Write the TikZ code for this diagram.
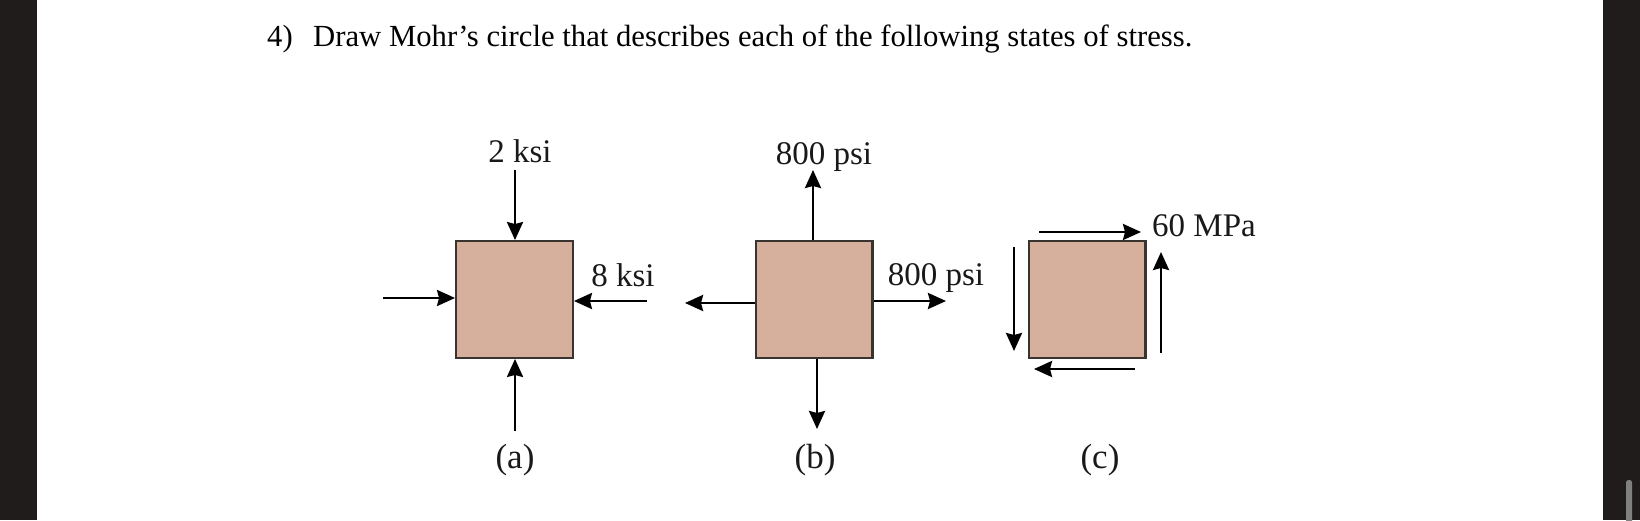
\documentclass[tikz,border=0pt]{standalone}
\usepackage{fontspec}
\setmainfont{Liberation Serif}
\usetikzlibrary{arrows.meta, positioning}
\definecolor{barcol}{HTML}{1F1C1B}
\definecolor{boxcol}{HTML}{D6B09D}
\definecolor{edgecol}{HTML}{3A3431}
\tikzstyle{element} = [rectangle,draw=edgecol,fill=boxcol,line width=2.4pt,minimum size=116.5pt,inner sep=0pt]
\tikzstyle{load} = [-{Stealth[length=18pt,width=16pt,inset=2pt]},line width=2.7pt,black]
\tikzstyle{lbl} = [font=\fontsize{33}{38}\selectfont,text=black!90,inner sep=0pt,anchor=base]
\tikzstyle{headline} = [font=\fontsize{30.7}{36}\selectfont,text=black,inner sep=0pt,anchor=base west]
\tikzstyle{caption} = [font=\fontsize{35}{40}\selectfont,text=black!90,inner sep=0pt,anchor=base]

\begin{document}
\begin{tikzpicture}[x=1pt,y=1pt]
\useasboundingbox (0,0) rectangle (1640,520);
\fill[white] (0,0) rectangle (1640,520);
\fill[barcol] (0,0) rectangle (37,520);
\fill[barcol] (1603,0) rectangle (1640,520);
\fill[black!50,rounded corners=2.5pt] (1626,-6) rectangle (1632,40);

\node [headline](num) at (267,473){4)};
\node [headline](title) at (313,473){Draw Mohr’s circle that describes each of the following states of stress.};

\node [element](boxa) at (514.5,220.5){};
\node [element,right=181pt of boxa](boxb){};
\node [element,right=154pt of boxb](boxc){};

% free ends of the arrows
\coordinate (a1) at (515,350);
\coordinate (a2) at (383,222);
\coordinate (a3) at (647,219);
\coordinate (a4) at (515,89);
\coordinate (b1) at (813,350);
\coordinate (b2) at (685,217);
\coordinate (b3) at (946,219);
\coordinate (b4) at (817,91);
\coordinate (c1) at (1039,288);
\coordinate (c2) at (1141,288);
\coordinate (c3) at (1161,167);
\coordinate (c4) at (1161,268);
\coordinate (c5) at (1014,273);
\coordinate (c6) at (1014,169);
\coordinate (c7) at (1135,151);
\coordinate (c8) at (1034,151);

\draw[load](a1)--(a1 |- boxa.north);
\draw[load](a2)--(a2 -| boxa.west);
\draw[load](a3)--(a3 -| boxa.east);
\draw[load](a4)--(a4 |- boxa.south);

\draw[load](b1 |- boxb.north)--(b1);
\draw[load](b2 -| boxb.west)--(b2);
\draw[load](b3 -| boxb.east)--(b3);
\draw[load](b4 |- boxb.south)--(b4);

\draw[load](c1)--(c2);
\draw[load](c3)--(c4);
\draw[load](c5)--(c6);
\draw[load](c7)--(c8);

\node [lbl](la) at (520,357){2 ksi};
\node [lbl](lb) at (623,234){8 ksi};
\node [lbl](lc) at (824,355){800 psi};
\node [lbl](ld) at (936,235){800 psi};
\node [lbl,anchor=base west](le) at (1152,283){60 MPa};

\node [caption](capa) at (515,52){(a)};
\node [caption](capb) at (815,52){(b)};
\node [caption](capc) at (1100,52){(c)};
\end{tikzpicture}
\end{document}
